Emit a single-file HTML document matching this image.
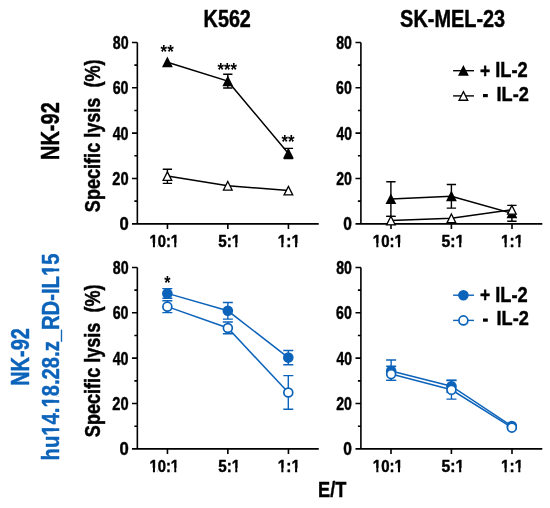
<!DOCTYPE html>
<html><head><meta charset="utf-8"><style>
html,body{margin:0;padding:0;background:#fff;width:550px;height:508px;overflow:hidden}
svg{display:block}
</style></head><body>
<div style="will-change:transform;width:550px;height:508px">
<svg width="550" height="508" viewBox="0 0 550 508">
<rect width="550" height="508" fill="#fff"/>
<path d="M137.35,42.45 V223.85 M131.95,223.85 H318.75 M134.35,201.17 H137.35 M131.95,178.50 H137.35 M134.35,155.82 H137.35 M131.95,133.15 H137.35 M134.35,110.47 H137.35 M131.95,87.80 H137.35 M134.35,65.12 H137.35 M131.95,42.45 H137.35 M167.45,223.85 V229.05 M227.85,223.85 V229.05 M288.45,223.85 V229.05" stroke="#000" stroke-width="1.6" fill="none"/>
<text transform="translate(119.39,229.52) scale(0.9441,1)" font-size="17.61" fill="#000" stroke="#000" stroke-width="0.45" stroke-linejoin="round" font-family="Liberation Sans" font-weight="bold" style="white-space:pre">0</text>
<text transform="translate(112.31,184.67) scale(0.8316,1)" font-size="17.61" fill="#000" stroke="#000" stroke-width="0.45" stroke-linejoin="round" font-family="Liberation Sans" font-weight="bold" style="white-space:pre">20</text>
<text transform="translate(112.67,139.57) scale(0.8115,1)" font-size="17.61" fill="#000" stroke="#000" stroke-width="0.45" stroke-linejoin="round" font-family="Liberation Sans" font-weight="bold" style="white-space:pre">40</text>
<text transform="translate(112.66,93.72) scale(0.8087,1)" font-size="17.61" fill="#000" stroke="#000" stroke-width="0.45" stroke-linejoin="round" font-family="Liberation Sans" font-weight="bold" style="white-space:pre">60</text>
<text transform="translate(112.74,48.62) scale(0.8061,1)" font-size="17.61" fill="#000" stroke="#000" stroke-width="0.45" stroke-linejoin="round" font-family="Liberation Sans" font-weight="bold" style="white-space:pre">80</text>
<g transform="translate(149.47,246.58) scale(0.8597,1)"><text font-size="17.18" fill="#000" stroke="#000" stroke-width="0.45" stroke-linejoin="round" font-family="Liberation Sans" font-weight="bold" style="white-space:pre">10:1</text><rect x="-4.20" y="-3.52" width="8.21" height="6.04" fill="#fff"/><rect x="6.37" y="-3.52" width="3.15" height="6.04" fill="#fff"/><rect x="25.17" y="-3.52" width="3.67" height="6.04" fill="#fff"/><rect x="31.20" y="-3.52" width="7.90" height="6.04" fill="#fff"/></g>
<g transform="translate(218.24,246.58) scale(0.8834,1)"><text font-size="17.14" fill="#000" stroke="#000" stroke-width="0.45" stroke-linejoin="round" font-family="Liberation Sans" font-weight="bold" style="white-space:pre">5:1</text><rect x="15.58" y="-3.52" width="3.67" height="6.03" fill="#fff"/><rect x="21.59" y="-3.52" width="7.88" height="6.03" fill="#fff"/></g>
<g transform="translate(277.67,246.75) scale(0.8904,1)"><text font-size="17.39" fill="#000" stroke="#000" stroke-width="0.45" stroke-linejoin="round" font-family="Liberation Sans" font-weight="bold" style="white-space:pre">1:1</text><rect x="-4.25" y="-3.57" width="8.31" height="6.11" fill="#fff"/><rect x="6.45" y="-3.57" width="3.19" height="6.11" fill="#fff"/><rect x="15.80" y="-3.57" width="3.72" height="6.11" fill="#fff"/><rect x="21.91" y="-3.57" width="7.99" height="6.11" fill="#fff"/></g>
<path d="M137.35,267.45 V448.85 M131.95,448.85 H318.75 M134.35,426.18 H137.35 M131.95,403.50 H137.35 M134.35,380.83 H137.35 M131.95,358.15 H137.35 M134.35,335.48 H137.35 M131.95,312.80 H137.35 M134.35,290.12 H137.35 M131.95,267.45 H137.35 M167.45,448.85 V454.05 M227.85,448.85 V454.05 M288.45,448.85 V454.05" stroke="#000" stroke-width="1.6" fill="none"/>
<text transform="translate(119.39,454.52) scale(0.9441,1)" font-size="17.61" fill="#000" stroke="#000" stroke-width="0.45" stroke-linejoin="round" font-family="Liberation Sans" font-weight="bold" style="white-space:pre">0</text>
<text transform="translate(112.31,409.67) scale(0.8316,1)" font-size="17.61" fill="#000" stroke="#000" stroke-width="0.45" stroke-linejoin="round" font-family="Liberation Sans" font-weight="bold" style="white-space:pre">20</text>
<text transform="translate(112.67,364.57) scale(0.8115,1)" font-size="17.61" fill="#000" stroke="#000" stroke-width="0.45" stroke-linejoin="round" font-family="Liberation Sans" font-weight="bold" style="white-space:pre">40</text>
<text transform="translate(112.66,318.72) scale(0.8087,1)" font-size="17.61" fill="#000" stroke="#000" stroke-width="0.45" stroke-linejoin="round" font-family="Liberation Sans" font-weight="bold" style="white-space:pre">60</text>
<text transform="translate(112.74,273.62) scale(0.8061,1)" font-size="17.61" fill="#000" stroke="#000" stroke-width="0.45" stroke-linejoin="round" font-family="Liberation Sans" font-weight="bold" style="white-space:pre">80</text>
<g transform="translate(149.47,471.58) scale(0.8597,1)"><text font-size="17.18" fill="#000" stroke="#000" stroke-width="0.45" stroke-linejoin="round" font-family="Liberation Sans" font-weight="bold" style="white-space:pre">10:1</text><rect x="-4.20" y="-3.52" width="8.21" height="6.04" fill="#fff"/><rect x="6.37" y="-3.52" width="3.15" height="6.04" fill="#fff"/><rect x="25.17" y="-3.52" width="3.67" height="6.04" fill="#fff"/><rect x="31.20" y="-3.52" width="7.90" height="6.04" fill="#fff"/></g>
<g transform="translate(218.24,471.58) scale(0.8834,1)"><text font-size="17.14" fill="#000" stroke="#000" stroke-width="0.45" stroke-linejoin="round" font-family="Liberation Sans" font-weight="bold" style="white-space:pre">5:1</text><rect x="15.58" y="-3.52" width="3.67" height="6.03" fill="#fff"/><rect x="21.59" y="-3.52" width="7.88" height="6.03" fill="#fff"/></g>
<g transform="translate(277.67,471.75) scale(0.8904,1)"><text font-size="17.39" fill="#000" stroke="#000" stroke-width="0.45" stroke-linejoin="round" font-family="Liberation Sans" font-weight="bold" style="white-space:pre">1:1</text><rect x="-4.25" y="-3.57" width="8.31" height="6.11" fill="#fff"/><rect x="6.45" y="-3.57" width="3.19" height="6.11" fill="#fff"/><rect x="15.80" y="-3.57" width="3.72" height="6.11" fill="#fff"/><rect x="21.91" y="-3.57" width="7.99" height="6.11" fill="#fff"/></g>
<path d="M360.90,42.45 V223.85 M355.50,223.85 H542.30 M357.90,201.17 H360.90 M355.50,178.50 H360.90 M357.90,155.82 H360.90 M355.50,133.15 H360.90 M357.90,110.47 H360.90 M355.50,87.80 H360.90 M357.90,65.12 H360.90 M355.50,42.45 H360.90 M391.00,223.85 V229.05 M451.40,223.85 V229.05 M512.00,223.85 V229.05" stroke="#000" stroke-width="1.6" fill="none"/>
<text transform="translate(343.29,229.52) scale(0.8800,1)" font-size="17.61" fill="#000" stroke="#000" stroke-width="0.45" stroke-linejoin="round" font-family="Liberation Sans" font-weight="bold" style="white-space:pre">0</text>
<text transform="translate(336.14,184.67) scale(0.8001,1)" font-size="17.61" fill="#000" stroke="#000" stroke-width="0.45" stroke-linejoin="round" font-family="Liberation Sans" font-weight="bold" style="white-space:pre">20</text>
<text transform="translate(336.49,139.57) scale(0.7882,1)" font-size="17.61" fill="#000" stroke="#000" stroke-width="0.45" stroke-linejoin="round" font-family="Liberation Sans" font-weight="bold" style="white-space:pre">40</text>
<text transform="translate(336.09,93.72) scale(0.8005,1)" font-size="17.61" fill="#000" stroke="#000" stroke-width="0.45" stroke-linejoin="round" font-family="Liberation Sans" font-weight="bold" style="white-space:pre">60</text>
<text transform="translate(336.19,48.62) scale(0.7973,1)" font-size="17.61" fill="#000" stroke="#000" stroke-width="0.45" stroke-linejoin="round" font-family="Liberation Sans" font-weight="bold" style="white-space:pre">80</text>
<g transform="translate(372.83,246.58) scale(0.8716,1)"><text font-size="17.18" fill="#000" stroke="#000" stroke-width="0.45" stroke-linejoin="round" font-family="Liberation Sans" font-weight="bold" style="white-space:pre">10:1</text><rect x="-4.20" y="-3.52" width="8.21" height="6.04" fill="#fff"/><rect x="6.37" y="-3.52" width="3.15" height="6.04" fill="#fff"/><rect x="25.17" y="-3.52" width="3.67" height="6.04" fill="#fff"/><rect x="31.20" y="-3.52" width="7.90" height="6.04" fill="#fff"/></g>
<g transform="translate(441.51,246.58) scale(0.9150,1)"><text font-size="17.14" fill="#000" stroke="#000" stroke-width="0.45" stroke-linejoin="round" font-family="Liberation Sans" font-weight="bold" style="white-space:pre">5:1</text><rect x="15.58" y="-3.52" width="3.67" height="6.03" fill="#fff"/><rect x="21.59" y="-3.52" width="7.88" height="6.03" fill="#fff"/></g>
<g transform="translate(501.02,246.75) scale(0.8826,1)"><text font-size="17.39" fill="#000" stroke="#000" stroke-width="0.45" stroke-linejoin="round" font-family="Liberation Sans" font-weight="bold" style="white-space:pre">1:1</text><rect x="-4.25" y="-3.57" width="8.31" height="6.11" fill="#fff"/><rect x="6.45" y="-3.57" width="3.19" height="6.11" fill="#fff"/><rect x="15.80" y="-3.57" width="3.72" height="6.11" fill="#fff"/><rect x="21.91" y="-3.57" width="7.99" height="6.11" fill="#fff"/></g>
<path d="M360.90,267.45 V448.85 M355.50,448.85 H542.30 M357.90,426.18 H360.90 M355.50,403.50 H360.90 M357.90,380.83 H360.90 M355.50,358.15 H360.90 M357.90,335.48 H360.90 M355.50,312.80 H360.90 M357.90,290.12 H360.90 M355.50,267.45 H360.90 M391.00,448.85 V454.05 M451.40,448.85 V454.05 M512.00,448.85 V454.05" stroke="#000" stroke-width="1.6" fill="none"/>
<text transform="translate(343.29,454.52) scale(0.8800,1)" font-size="17.61" fill="#000" stroke="#000" stroke-width="0.45" stroke-linejoin="round" font-family="Liberation Sans" font-weight="bold" style="white-space:pre">0</text>
<text transform="translate(336.14,409.67) scale(0.8001,1)" font-size="17.61" fill="#000" stroke="#000" stroke-width="0.45" stroke-linejoin="round" font-family="Liberation Sans" font-weight="bold" style="white-space:pre">20</text>
<text transform="translate(336.49,364.57) scale(0.7882,1)" font-size="17.61" fill="#000" stroke="#000" stroke-width="0.45" stroke-linejoin="round" font-family="Liberation Sans" font-weight="bold" style="white-space:pre">40</text>
<text transform="translate(336.09,318.72) scale(0.8005,1)" font-size="17.61" fill="#000" stroke="#000" stroke-width="0.45" stroke-linejoin="round" font-family="Liberation Sans" font-weight="bold" style="white-space:pre">60</text>
<text transform="translate(336.19,273.62) scale(0.7973,1)" font-size="17.61" fill="#000" stroke="#000" stroke-width="0.45" stroke-linejoin="round" font-family="Liberation Sans" font-weight="bold" style="white-space:pre">80</text>
<g transform="translate(372.83,471.58) scale(0.8716,1)"><text font-size="17.18" fill="#000" stroke="#000" stroke-width="0.45" stroke-linejoin="round" font-family="Liberation Sans" font-weight="bold" style="white-space:pre">10:1</text><rect x="-4.20" y="-3.52" width="8.21" height="6.04" fill="#fff"/><rect x="6.37" y="-3.52" width="3.15" height="6.04" fill="#fff"/><rect x="25.17" y="-3.52" width="3.67" height="6.04" fill="#fff"/><rect x="31.20" y="-3.52" width="7.90" height="6.04" fill="#fff"/></g>
<g transform="translate(441.51,471.58) scale(0.9150,1)"><text font-size="17.14" fill="#000" stroke="#000" stroke-width="0.45" stroke-linejoin="round" font-family="Liberation Sans" font-weight="bold" style="white-space:pre">5:1</text><rect x="15.58" y="-3.52" width="3.67" height="6.03" fill="#fff"/><rect x="21.59" y="-3.52" width="7.88" height="6.03" fill="#fff"/></g>
<g transform="translate(501.02,471.75) scale(0.8826,1)"><text font-size="17.39" fill="#000" stroke="#000" stroke-width="0.45" stroke-linejoin="round" font-family="Liberation Sans" font-weight="bold" style="white-space:pre">1:1</text><rect x="-4.25" y="-3.57" width="8.31" height="6.11" fill="#fff"/><rect x="6.45" y="-3.57" width="3.19" height="6.11" fill="#fff"/><rect x="15.80" y="-3.57" width="3.72" height="6.11" fill="#fff"/><rect x="21.91" y="-3.57" width="7.99" height="6.11" fill="#fff"/></g>
<path d="M227.80,74.30 V88.00 M223.15,74.30 H232.45 M223.15,88.00 H232.45" stroke="#000" stroke-width="1.4" fill="none"/>
<path d="M288.40,148.40 V158.60 M283.75,148.40 H293.05 M283.75,158.60 H293.05" stroke="#000" stroke-width="1.4" fill="none"/>
<polyline points="167.40,62.25 227.80,81.15 288.40,153.50" fill="none" stroke="#000" stroke-width="1.5"/>
<path d="M167.40,56.55 L172.80,67.25 L162.00,67.25 Z" fill="#000"/>
<path d="M227.80,75.45 L233.20,86.15 L222.40,86.15 Z" fill="#000"/>
<path d="M288.40,147.80 L293.80,158.50 L283.00,158.50 Z" fill="#000"/>
<path d="M167.40,169.20 V183.40 M162.75,169.20 H172.05 M162.75,183.40 H172.05" stroke="#000" stroke-width="1.4" fill="none"/>
<polyline points="167.40,176.10 227.80,185.70 288.40,190.60" fill="none" stroke="#000" stroke-width="1.5"/>
<path d="M167.40,171.84 L171.74,180.45 L163.06,180.45 Z" fill="#fff" stroke="#000" stroke-width="1.3" stroke-linejoin="miter" stroke-miterlimit="10"/>
<path d="M227.80,181.44 L232.14,190.05 L223.46,190.05 Z" fill="#fff" stroke="#000" stroke-width="1.3" stroke-linejoin="miter" stroke-miterlimit="10"/>
<path d="M288.40,186.34 L292.74,194.95 L284.06,194.95 Z" fill="#fff" stroke="#000" stroke-width="1.3" stroke-linejoin="miter" stroke-miterlimit="10"/>
<path d="M390.90,181.75 V216.40 M386.25,181.75 H395.55 M386.25,216.40 H395.55" stroke="#000" stroke-width="1.4" fill="none"/>
<path d="M451.40,184.50 V208.10 M446.75,184.50 H456.05 M446.75,208.10 H456.05" stroke="#000" stroke-width="1.4" fill="none"/>
<path d="M511.90,205.40 V221.20 M507.25,205.40 H516.55 M507.25,221.20 H516.55" stroke="#000" stroke-width="1.4" fill="none"/>
<polyline points="390.90,199.10 451.40,196.30 511.90,213.30" fill="none" stroke="#000" stroke-width="1.5"/>
<path d="M390.90,193.40 L396.30,204.10 L385.50,204.10 Z" fill="#000"/>
<path d="M451.40,190.60 L456.80,201.30 L446.00,201.30 Z" fill="#000"/>
<path d="M511.90,207.60 L517.30,218.30 L506.50,218.30 Z" fill="#000"/>
<path d="M390.90,216.40 V224.00 M386.25,216.40 H395.55 M386.25,224.00 H395.55" stroke="#000" stroke-width="1.4" fill="none"/>
<polyline points="390.90,220.50 451.40,218.30 511.90,209.80" fill="none" stroke="#000" stroke-width="1.5"/>
<path d="M390.90,216.24 L395.24,224.85 L386.56,224.85 Z" fill="#fff" stroke="#000" stroke-width="1.3" stroke-linejoin="miter" stroke-miterlimit="10"/>
<path d="M451.40,214.04 L455.74,222.65 L447.06,222.65 Z" fill="#fff" stroke="#000" stroke-width="1.3" stroke-linejoin="miter" stroke-miterlimit="10"/>
<path d="M511.90,205.54 L516.24,214.15 L507.56,214.15 Z" fill="#fff" stroke="#000" stroke-width="1.3" stroke-linejoin="miter" stroke-miterlimit="10"/>
<path d="M167.35,288.60 V298.20 M162.35,288.60 H172.35 M162.35,298.20 H172.35" stroke="#0c63ba" stroke-width="1.4" fill="none"/>
<path d="M227.85,302.50 V319.10 M222.85,302.50 H232.85 M222.85,319.10 H232.85" stroke="#0c63ba" stroke-width="1.4" fill="none"/>
<path d="M288.30,350.50 V364.70 M283.30,350.50 H293.30 M283.30,364.70 H293.30" stroke="#0c63ba" stroke-width="1.4" fill="none"/>
<polyline points="167.35,293.40 227.85,310.80 288.30,357.60" fill="none" stroke="#0c63ba" stroke-width="1.5"/>
<circle cx="167.35" cy="293.40" r="5.3" fill="#0c63ba"/>
<circle cx="227.85" cy="310.80" r="5.3" fill="#0c63ba"/>
<circle cx="288.30" cy="357.60" r="5.3" fill="#0c63ba"/>
<path d="M167.35,300.70 V312.60 M162.35,300.70 H172.35 M162.35,312.60 H172.35" stroke="#0c63ba" stroke-width="1.4" fill="none"/>
<path d="M227.85,322.00 V333.80 M222.85,322.00 H232.85 M222.85,333.80 H232.85" stroke="#0c63ba" stroke-width="1.4" fill="none"/>
<path d="M288.30,375.60 V409.30 M283.30,375.60 H293.30 M283.30,409.30 H293.30" stroke="#0c63ba" stroke-width="1.4" fill="none"/>
<polyline points="167.35,306.65 227.85,328.00 288.30,392.50" fill="none" stroke="#0c63ba" stroke-width="1.5"/>
<circle cx="167.35" cy="306.65" r="4.45" fill="#fff" stroke="#0c63ba" stroke-width="1.7"/>
<circle cx="227.85" cy="328.00" r="4.45" fill="#fff" stroke="#0c63ba" stroke-width="1.7"/>
<circle cx="288.30" cy="392.50" r="4.45" fill="#fff" stroke="#0c63ba" stroke-width="1.7"/>
<path d="M391.15,360.00 V380.40 M386.15,360.00 H396.15 M386.15,380.40 H396.15" stroke="#0c63ba" stroke-width="1.4" fill="none"/>
<path d="M451.45,380.20 V392.20 M446.45,380.20 H456.45 M446.45,392.20 H456.45" stroke="#0c63ba" stroke-width="1.4" fill="none"/>
<polyline points="391.15,370.90 451.45,386.20 511.85,426.10" fill="none" stroke="#0c63ba" stroke-width="1.5"/>
<circle cx="391.15" cy="370.90" r="5.3" fill="#0c63ba"/>
<circle cx="451.45" cy="386.20" r="5.3" fill="#0c63ba"/>
<circle cx="511.85" cy="426.10" r="5.3" fill="#0c63ba"/>
<path d="M391.15,366.30 V380.40 M386.15,366.30 H396.15 M386.15,380.40 H396.15" stroke="#0c63ba" stroke-width="1.4" fill="none"/>
<path d="M451.45,380.50 V399.10 M446.45,380.50 H456.45 M446.45,399.10 H456.45" stroke="#0c63ba" stroke-width="1.4" fill="none"/>
<polyline points="391.15,374.10 451.45,389.80 511.85,427.60" fill="none" stroke="#0c63ba" stroke-width="1.5"/>
<circle cx="391.15" cy="374.10" r="4.45" fill="#fff" stroke="#0c63ba" stroke-width="1.7"/>
<circle cx="451.45" cy="389.80" r="4.45" fill="#fff" stroke="#0c63ba" stroke-width="1.7"/>
<circle cx="511.85" cy="427.60" r="4.45" fill="#fff" stroke="#0c63ba" stroke-width="1.7"/>
<text transform="translate(160.59,57.70) scale(0.9411,1)" font-size="17.89" fill="#000" font-family="Liberation Sans" font-weight="bold" style="white-space:pre">**</text>
<text transform="translate(217.58,75.65) scale(0.9312,1)" font-size="17.89" fill="#000" font-family="Liberation Sans" font-weight="bold" style="white-space:pre">***</text>
<text transform="translate(281.41,147.55) scale(0.9339,1)" font-size="17.89" fill="#000" font-family="Liberation Sans" font-weight="bold" style="white-space:pre">**</text>
<text transform="translate(164.37,288.70) scale(0.9027,1)" font-size="17.89" fill="#000" font-family="Liberation Sans" font-weight="bold" style="white-space:pre">*</text>
<path d="M453.1,70.70 H474" stroke="#000" stroke-width="1.4"/>
<path d="M463.40,65.00 L468.80,75.70 L458.00,75.70 Z" fill="#000"/>
<path d="M453.1,95.90 H474" stroke="#000" stroke-width="1.4"/>
<path d="M463.40,91.64 L467.74,100.25 L459.06,100.25 Z" fill="#fff" stroke="#000" stroke-width="1.3" stroke-linejoin="miter" stroke-miterlimit="10"/>
<text transform="translate(479.91,77.55) scale(0.9001,1)" font-size="19.41" fill="#000" stroke="#000" stroke-width="0.45" stroke-linejoin="round" font-family="Liberation Sans" font-weight="bold" style="white-space:pre">+</text>
<text transform="translate(495.24,76.85) scale(0.8413,1)" font-size="21.71" fill="#000" stroke="#000" stroke-width="0.45" stroke-linejoin="round" font-family="Liberation Sans" font-weight="bold" style="white-space:pre">IL-2</text>
<rect x="483.0" y="94.00" width="4.8" height="3.2" fill="#000"/>
<text transform="translate(496.54,100.65) scale(0.8602,1)" font-size="21.14" fill="#000" stroke="#000" stroke-width="0.45" stroke-linejoin="round" font-family="Liberation Sans" font-weight="bold" style="white-space:pre">IL-2</text>
<path d="M453.1,295.20 H474" stroke="#0c63ba" stroke-width="1.4"/>
<circle cx="463.40" cy="295.20" r="5.3" fill="#0c63ba"/>
<path d="M453.1,320.40 H474" stroke="#0c63ba" stroke-width="1.4"/>
<circle cx="463.40" cy="320.40" r="4.45" fill="#fff" stroke="#0c63ba" stroke-width="1.7"/>
<text transform="translate(479.91,301.55) scale(0.9001,1)" font-size="19.41" fill="#000" stroke="#000" stroke-width="0.45" stroke-linejoin="round" font-family="Liberation Sans" font-weight="bold" style="white-space:pre">+</text>
<text transform="translate(495.24,301.60) scale(0.8413,1)" font-size="21.71" fill="#000" stroke="#000" stroke-width="0.45" stroke-linejoin="round" font-family="Liberation Sans" font-weight="bold" style="white-space:pre">IL-2</text>
<rect x="483.0" y="318.50" width="4.8" height="3.2" fill="#000"/>
<text transform="translate(496.54,325.15) scale(0.8602,1)" font-size="21.14" fill="#000" stroke="#000" stroke-width="0.45" stroke-linejoin="round" font-family="Liberation Sans" font-weight="bold" style="white-space:pre">IL-2</text>
<text transform="translate(203.62,26.71) scale(0.8402,1)" font-size="23.52" fill="#000" stroke="#000" stroke-width="0.45" stroke-linejoin="round" font-family="Liberation Sans" font-weight="bold" style="white-space:pre">K562</text>
<text transform="translate(400.12,26.72) scale(0.8572,1)" font-size="23.24" fill="#000" stroke="#000" stroke-width="0.45" stroke-linejoin="round" font-family="Liberation Sans" font-weight="bold" style="white-space:pre">SK-MEL-23</text>
<text transform="translate(318.03,496.61) scale(0.8302,1)" font-size="21.87" fill="#000" stroke="#000" stroke-width="0.45" stroke-linejoin="round" font-family="Liberation Sans" font-weight="bold" style="white-space:pre">E/T</text>
<text transform="translate(99.65,212.13) rotate(-90) scale(0.8408,1)" font-size="21.50" fill="#000" stroke="#000" stroke-width="0.45" stroke-linejoin="round" font-family="Liberation Sans" font-weight="bold" style="white-space:pre">Specific lysis  (%)</text>
<text transform="translate(99.65,437.13) rotate(-90) scale(0.8408,1)" font-size="21.50" fill="#000" stroke="#000" stroke-width="0.45" stroke-linejoin="round" font-family="Liberation Sans" font-weight="bold" style="white-space:pre">Specific lysis  (%)</text>
<text transform="translate(58.55,160.02) rotate(-90) scale(0.8023,1)" font-size="24.93" fill="#000" stroke="#000" stroke-width="0.45" stroke-linejoin="round" font-family="Liberation Sans" font-weight="bold" style="white-space:pre">NK-92</text>
<text transform="translate(28.50,385.85) rotate(-90) scale(0.8055,1)" font-size="24.86" fill="#0c63ba" stroke="#0c63ba" stroke-width="0.45" stroke-linejoin="round" font-family="Liberation Sans" font-weight="bold" style="white-space:pre">NK-92</text>
<g transform="translate(58.60,460.41) rotate(-90) scale(0.8224,1)"><text font-size="24.60" fill="#0c63ba" stroke="#0c63ba" stroke-width="0.45" stroke-linejoin="round" font-family="Liberation Sans" font-weight="bold" style="white-space:pre">hu14.18.28.z_RD-IL15</text><rect x="30.53" y="-5.04" width="5.26" height="8.65" fill="#fff"/><rect x="39.17" y="-5.04" width="4.52" height="8.65" fill="#fff"/><rect x="64.73" y="-5.04" width="5.26" height="8.65" fill="#fff"/><rect x="73.37" y="-5.04" width="4.52" height="8.65" fill="#fff"/><rect x="224.69" y="-5.04" width="5.26" height="8.65" fill="#fff"/><rect x="233.33" y="-5.04" width="4.52" height="8.65" fill="#fff"/></g>
</svg>
</div>
</body></html>
